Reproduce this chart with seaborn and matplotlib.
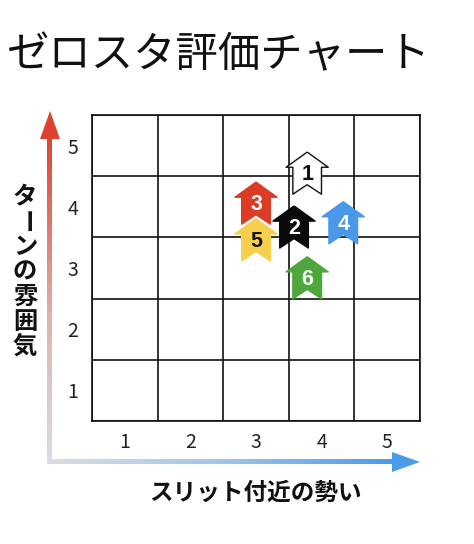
import matplotlib
matplotlib.use("Agg")
import matplotlib.pyplot as plt
import numpy as np
import pandas as pd
import seaborn as sns
from matplotlib.colors import LinearSegmentedColormap
from matplotlib.patches import Polygon

# chart texts
title = "ゼロスタ評価チャート"
x_label = "スリット付近の勢い"
y_label = "ターンの雰囲気"
tick_values = [1, 2, 3, 4, 5]
tick_labels = ["1", "2", "3", "4", "5"]

# boats: slit power (x) and turn mood (y)
boat_numbers = ["1", "2", "3", "4", "5", "6"]
slit_power = [3.78, 3.58, 3.00, 4.33, 3.00, 3.78]
turn_mood = [4.55, 3.67, 4.06, 3.74, 3.46, 2.84]
boat_colors = ["#ffffff", "#0a0a0a", "#dc3b26", "#4a98ea", "#f6d04d", "#4ea73a"]
edge_colors = ["#111111", "#0a0a0a", "#dc3b26", "#4a98ea", "#f6d04d", "#4ea73a"]
number_colors = ["#111111", "#ffffff", "#ffffff", "#ffffff", "#111111", "#ffffff"]

sns.set_style("white")
plt.rcParams["font.family"] = ["Noto Sans CJK JP", "DejaVu Sans"]

df = pd.DataFrame({"number": boat_numbers, "slit": slit_power, "turn": turn_mood})

# upward arrow with a notched tail
arrow_marker = np.array([
    (0.0, 1.0), (1.0, 0.28), (0.68, 0.28), (0.68, -1.0),
    (0.0, -0.55), (-0.68, -1.0), (-0.68, 0.28), (-1.0, 0.28), (0.0, 1.0),
])

W, H = 474, 544
fig = plt.figure(figsize=(W / 100, H / 100), dpi=100)
ax = fig.add_axes([92 / W, 1 - 421 / H, 328 / W, 306 / H])

sns.scatterplot(
    data=df, x="slit", y="turn", hue="number",
    palette=dict(zip(boat_numbers, boat_colors)),
    marker=arrow_marker, s=920, edgecolor=edge_colors, linewidth=1,
    legend=False, ax=ax, zorder=3,
)
for _, row in df.iterrows():
    i = boat_numbers.index(row["number"])
    ax.text(row["slit"], row["turn"] - 0.03, row["number"], ha="center", va="center",
            fontsize=15.5, fontweight="bold", color=number_colors[i],
            family="Liberation Sans", zorder=4)

ax.set_xlim(0.5, 5.5)
ax.set_ylim(0.5, 5.5)
ax.set_xticks(tick_values)
ax.set_xticklabels(tick_labels)
ax.set_yticks(tick_values)
ax.set_yticklabels(tick_labels)
ax.set_xticks(np.arange(0.5, 6, 1), minor=True)
ax.set_yticks(np.arange(0.5, 6, 1), minor=True)
ax.grid(which="minor", color="#111111", linewidth=1.2)
ax.grid(which="major", visible=False)
ax.tick_params(which="both", length=0, labelsize=14, labelcolor="#222222")
ax.tick_params(axis="x", pad=8)
ax.tick_params(axis="y", pad=10)
ax.set_xlabel("")
ax.set_ylabel("")
for sp in ax.spines.values():
    sp.set_visible(True)
    sp.set_color("#111111")
    sp.set_linewidth(1.2)

# overlay in pixel units for title, labels and gradient arrows
ov = fig.add_axes([0, 0, 1, 1])
ov.axis("off")

ov.text(6, 55, title, fontsize=30.5, ha="left", va="center", color="#111111")
ov.text(256, 493, x_label, fontsize=17, fontweight="bold", ha="center", va="center",
        color="#111111")
for k, ch in enumerate(y_label):
    ov.text(25, 197 + k * 25, ch, fontsize=17.5, fontweight="bold", ha="center",
            va="center", color="#111111", rotation=-90 if ch == "ー" else 0)

red_cmap = LinearSegmentedColormap.from_list(
    "red_up", [(0, "#d8dee6"), (0.45, "#e0b2ab"), (1, "#dc4431")])
blue_cmap = LinearSegmentedColormap.from_list(
    "blue_right", [(0, "#dcdde1"), (0.5, "#a2c6ea"), (1, "#4a9be8")])

ramp = np.linspace(0, 1, 256)
ov.imshow(ramp[:, None], cmap=red_cmap, origin="lower", aspect="auto",
          extent=(47.5, 52.5, 464.5, 138), interpolation="bilinear")
ov.imshow(ramp[None, :], cmap=blue_cmap, origin="lower", aspect="auto",
          extent=(47.5, 393, 464.5, 459.5), interpolation="bilinear")
ov.add_patch(Polygon([(40, 139), (60, 139), (50, 111)], closed=True,
                     facecolor="#dd432e", edgecolor="none"))
ov.add_patch(Polygon([(392, 452), (392, 472), (420, 462)], closed=True,
                     facecolor="#4a9be8", edgecolor="none"))
ov.set_xlim(0, W)
ov.set_ylim(H, 0)

fig.savefig("out.png", dpi=100)
